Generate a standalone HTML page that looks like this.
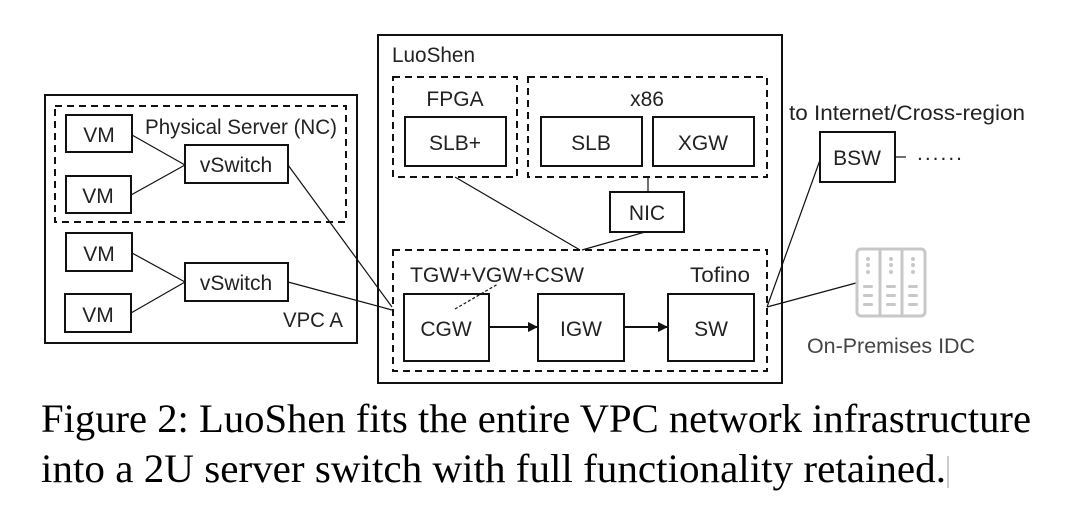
<!DOCTYPE html>
<html><head><meta charset="utf-8"><style>html,body{margin:0;padding:0;background:#fff}svg{display:block}</style></head>
<body>
<svg width="1080" height="507" viewBox="0 0 1080 507" xmlns="http://www.w3.org/2000/svg" font-family="Liberation Sans, DejaVu Sans, sans-serif">
<defs><marker id="a" markerWidth="10" markerHeight="10" refX="9" refY="5" orient="auto" markerUnits="userSpaceOnUse"><path d="M0,0 L10,5 L0,10 z" fill="#111"/></marker></defs>
<g fill="none" stroke="#111" stroke-width="2">
<rect x="45" y="95" width="312" height="248"/>
<rect x="55" y="106" width="291" height="116" stroke-dasharray="7,5"/>
<rect x="66" y="115" width="66" height="37"/>
<rect x="66" y="176" width="65" height="37"/>
<rect x="66" y="233" width="66" height="38"/>
<rect x="65" y="294" width="66" height="38"/>
<rect x="185" y="145" width="103" height="38"/>
<rect x="185" y="263" width="103" height="38"/>
<rect x="378" y="35" width="404" height="348"/>
<rect x="393" y="77" width="124" height="100" stroke-dasharray="7,5"/>
<rect x="405" y="117" width="101" height="49"/>
<rect x="528" y="77" width="239" height="100" stroke-dasharray="7,5"/>
<rect x="541" y="117" width="101" height="49"/>
<rect x="653" y="117" width="101" height="49"/>
<rect x="610" y="192" width="74" height="40"/>
<rect x="393" y="250" width="374" height="121" stroke-dasharray="7,5"/>
<rect x="404" y="294" width="85" height="67"/>
<rect x="538" y="294" width="86" height="67"/>
<rect x="668" y="294" width="86" height="67"/>
<rect x="820" y="132" width="75" height="50"/>
</g>
<g fill="none" stroke="#111" stroke-width="1.2">
<line x1="132" y1="135" x2="185" y2="165"/>
<line x1="131" y1="195" x2="185" y2="165"/>
<line x1="132" y1="253" x2="185" y2="282"/>
<line x1="131" y1="313" x2="185" y2="282"/>
<line x1="288" y1="165" x2="392" y2="307"/>
<line x1="288" y1="282" x2="392" y2="310"/>
<line x1="455" y1="177" x2="580" y2="250"/>
<line x1="645" y1="232" x2="582" y2="250"/>
<line x1="648" y1="177" x2="648" y2="192"/>
<line x1="767" y1="307" x2="820" y2="160"/>
<line x1="767" y1="307" x2="856" y2="283"/>
<line x1="895" y1="157" x2="906" y2="157"/>
<line x1="455" y1="309" x2="498" y2="284" stroke-dasharray="3,2"/>
</g>
<g stroke="#111" stroke-width="2" marker-end="url(#a)">
<line x1="489" y1="327" x2="537" y2="327"/>
<line x1="624" y1="327" x2="667" y2="327"/>
</g>
<g fill="none" stroke="#c8c8c8" stroke-width="3">
<rect x="857" y="249" width="68" height="67" rx="4"/>
<line x1="880" y1="249" x2="880" y2="316"/>
<line x1="902" y1="249" x2="902" y2="316"/>
</g>
<g fill="#c8c8c8">
<circle cx="868" cy="259" r="2"/><circle cx="868" cy="265" r="2"/><circle cx="868" cy="272" r="2"/>
<circle cx="891" cy="259" r="2"/><circle cx="891" cy="265" r="2"/><circle cx="891" cy="272" r="2"/>
<circle cx="913" cy="259" r="2"/><circle cx="913" cy="265" r="2"/><circle cx="913" cy="272" r="2"/>
<rect x="863" y="285" width="10" height="3" rx="1.5"/><rect x="863" y="294" width="10" height="3" rx="1.5"/><rect x="863" y="303" width="10" height="3" rx="1.5"/>
<rect x="886" y="285" width="10" height="3" rx="1.5"/><rect x="886" y="294" width="10" height="3" rx="1.5"/><rect x="886" y="303" width="10" height="3" rx="1.5"/>
<rect x="908" y="285" width="10" height="3" rx="1.5"/><rect x="908" y="294" width="10" height="3" rx="1.5"/><rect x="908" y="303" width="10" height="3" rx="1.5"/>
</g>
<g font-size="21" fill="#222" text-anchor="middle">
<text x="99" y="142">VM</text>
<text x="98" y="203">VM</text>
<text x="99" y="261">VM</text>
<text x="98" y="322">VM</text>
<text x="236" y="172">vSwitch</text>
<text x="236" y="290">vSwitch</text>
<text x="455" y="150">SLB+</text>
<text x="591" y="150">SLB</text>
<text x="703" y="150">XGW</text>
<text x="647" y="220">NIC</text>
<text x="446" y="336">CGW</text>
<text x="581" y="336">IGW</text>
<text x="711" y="336">SW</text>
<text x="857" y="165">BSW</text>
<text x="455" y="106">FPGA</text>
<text x="647" y="106">x86</text>
</g>
<g font-size="21" fill="#222">
<text x="145" y="134" textLength="192" lengthAdjust="spacingAndGlyphs">Physical Server (NC)</text>
<text x="283" y="327" textLength="60" lengthAdjust="spacingAndGlyphs">VPC A</text>
<text x="392" y="62" textLength="83" lengthAdjust="spacingAndGlyphs">LuoShen</text>
<text x="410" y="282" textLength="174" lengthAdjust="spacingAndGlyphs">TGW+VGW+CSW</text>
<text x="690" y="282" textLength="60" lengthAdjust="spacingAndGlyphs">Tofino</text>
<text x="789" y="120" textLength="236" lengthAdjust="spacingAndGlyphs">to Internet/Cross-region</text>
<text x="807" y="353" fill="#444" textLength="168" lengthAdjust="spacingAndGlyphs">On-Premises IDC</text>
<text x="917" y="160" letter-spacing="2">......</text>
</g>
<g font-family="Liberation Serif, DejaVu Serif, serif" font-size="40" fill="#000">
<text x="41" y="432" textLength="990" lengthAdjust="spacingAndGlyphs">Figure 2: LuoShen fits the entire VPC network infrastructure</text>
<text x="41" y="482" textLength="905" lengthAdjust="spacingAndGlyphs">into a 2U server switch with full functionality retained.</text>
</g>
<line x1="948" y1="456" x2="948" y2="488" stroke="#999" stroke-width="1"/>
</svg>
</body></html>
